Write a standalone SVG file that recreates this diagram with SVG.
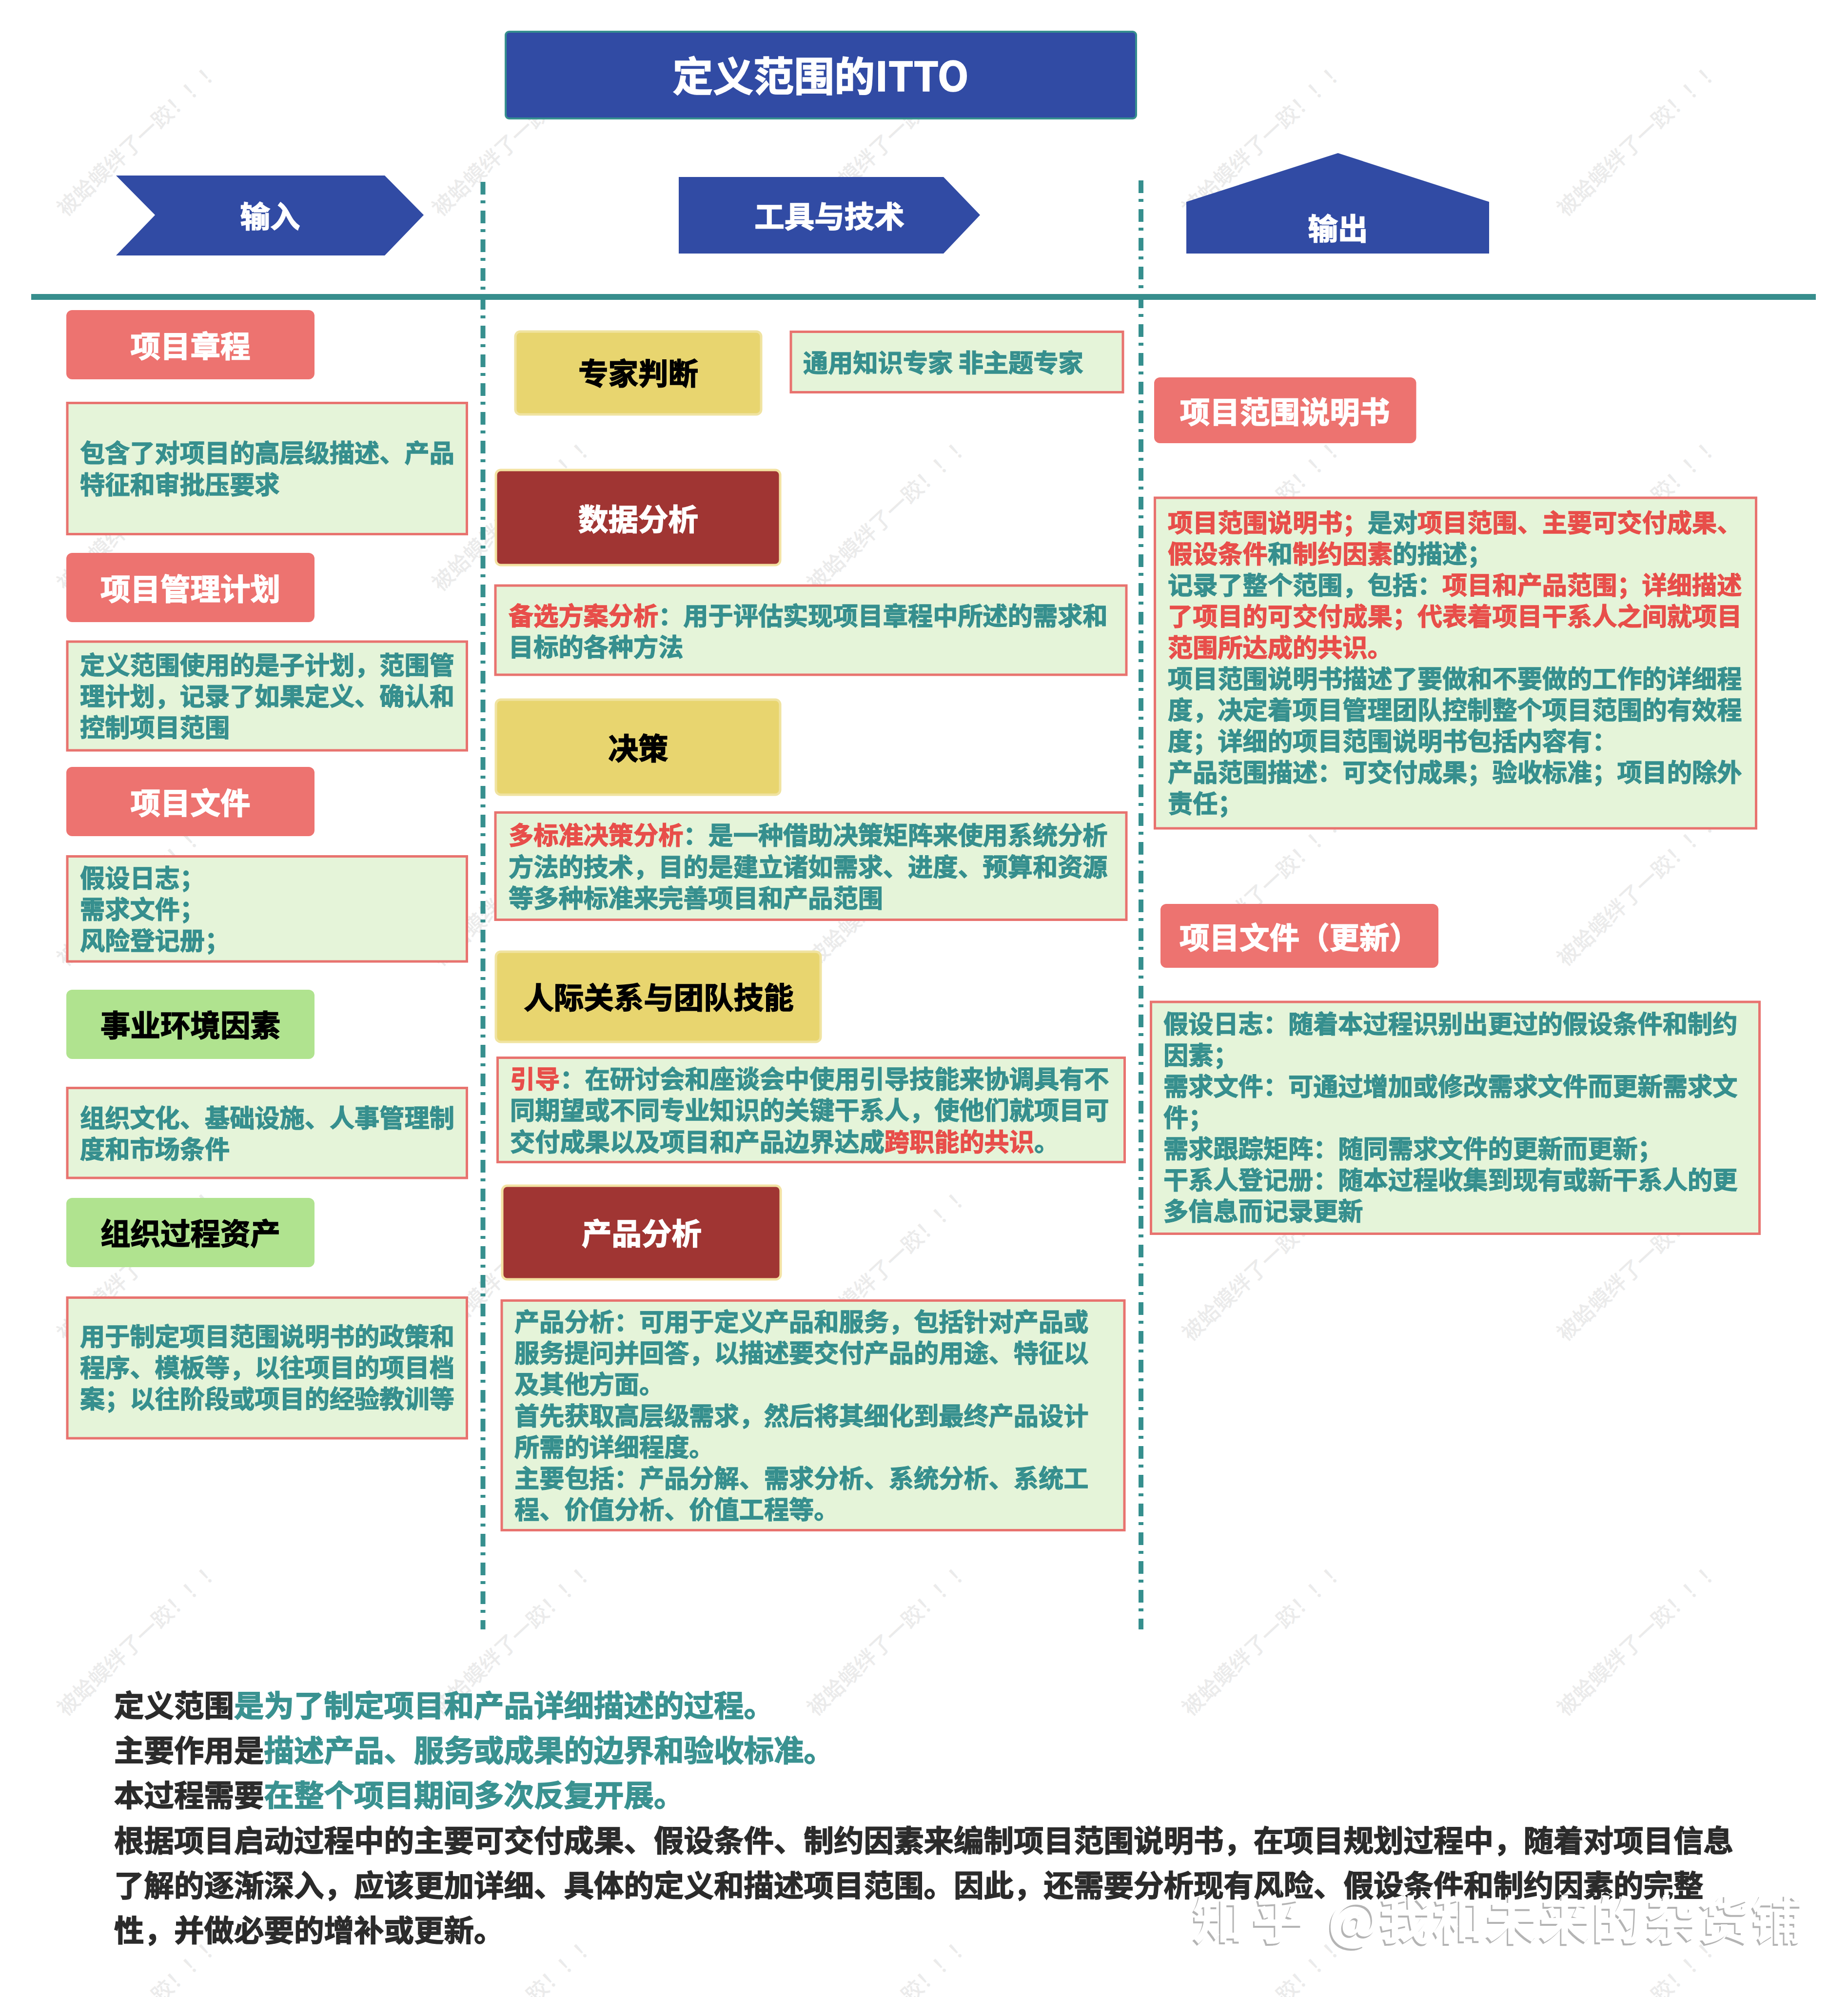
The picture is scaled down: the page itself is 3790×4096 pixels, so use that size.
<svg xmlns="http://www.w3.org/2000/svg" width="3790" height="4096" viewBox="0 0 3790 4096">
<defs>
<style>
text{font-family:"Noto Sans CJK SC","Noto Sans",sans-serif;font-weight:700}
.wm{font-size:44px;font-weight:500;fill:#ebebeb}
.lab{font-size:61.5px;text-anchor:middle}
.w{fill:#fff;stroke:#fff;stroke-width:1.6}
.k{fill:#000;stroke:#000;stroke-width:1.6}
.t{font-size:51.2px;fill:#368f8e;stroke:#368f8e;stroke-width:1.3}
.r{fill:#e84e4a;stroke:#e84e4a}
.box{fill:#e5f4d9;stroke:#e8736f;stroke-width:5}
.red{fill:#ed7370}
.grn{fill:#b0e38f}
.yel{fill:#e8d56f;stroke:#f0e3a0;stroke-width:5}
.brn{fill:#a03533;stroke:#f3e2a2;stroke-width:5}
.blue{fill:#314ba4}
.dash{stroke:#368f8e;stroke-width:10;fill:none;stroke-dasharray:26 12 6 15}
.b{font-size:61.5px;fill:#2b2b2b;stroke:#2b2b2b;stroke-width:1.6}
.g{fill:#3a9291;stroke:#3a9291}
.zh{font-size:106px}
</style>
<g id="wmk"><text class="wm" transform="rotate(-43)">被蛤蟆绊了一跤！！！</text></g>
<g id="zhk"><text class="zh" x="2443" y="3981" letter-spacing="16">知乎</text><text class="zh" x="2720" y="3981">@</text><text class="zh" x="2826" y="3981" letter-spacing="3">我和未来的杂货铺</text></g>
</defs>
<rect width="3790" height="4096" fill="#fff"/>
<g id="watermarks">
<use href="#wmk" transform="translate(135 446)"/><use href="#wmk" transform="translate(904 446)"/><use href="#wmk" transform="translate(1673 446)"/><use href="#wmk" transform="translate(2442 446)"/><use href="#wmk" transform="translate(3211 446)"/>
<use href="#wmk" transform="translate(135 1215)"/><use href="#wmk" transform="translate(904 1215)"/><use href="#wmk" transform="translate(1673 1215)"/><use href="#wmk" transform="translate(2442 1215)"/><use href="#wmk" transform="translate(3211 1215)"/>
<use href="#wmk" transform="translate(135 1984)"/><use href="#wmk" transform="translate(904 1984)"/><use href="#wmk" transform="translate(1673 1984)"/><use href="#wmk" transform="translate(2442 1984)"/><use href="#wmk" transform="translate(3211 1984)"/>
<use href="#wmk" transform="translate(135 2753)"/><use href="#wmk" transform="translate(904 2753)"/><use href="#wmk" transform="translate(1673 2753)"/><use href="#wmk" transform="translate(2442 2753)"/><use href="#wmk" transform="translate(3211 2753)"/>
<use href="#wmk" transform="translate(135 3522)"/><use href="#wmk" transform="translate(904 3522)"/><use href="#wmk" transform="translate(1673 3522)"/><use href="#wmk" transform="translate(2442 3522)"/><use href="#wmk" transform="translate(3211 3522)"/>
<use href="#wmk" transform="translate(135 4291)"/><use href="#wmk" transform="translate(904 4291)"/><use href="#wmk" transform="translate(1673 4291)"/><use href="#wmk" transform="translate(2442 4291)"/><use href="#wmk" transform="translate(3211 4291)"/>
</g>
<g id="connectors">
<line class="dash" x1="990.5" y1="373" x2="990.5" y2="3342"/>
<line class="dash" x1="2340" y1="370" x2="2340" y2="3342"/>
<rect x="64" y="603" width="3660" height="12" fill="#378e8d"/>
</g>
<g id="title"><rect x="1037" y="65" width="1293" height="178" rx="7" fill="#314ba4" stroke="#368f8e" stroke-width="4"/><text x="1683" y="187" font-size="83" class="w" text-anchor="middle">定义范围的ITTO</text></g>
<g id="head-input"><polygon class="blue" points="238,360 789,360 869,441 789,524 238,524 318,441"/><text class="lab w" x="554" y="467">输入</text></g>
<g id="head-tools"><polygon class="blue" points="1392,363 1935,363 2010,441 1935,520 1392,520"/><text class="lab w" x="1701" y="467">工具与技术</text></g>
<g id="head-output"><polygon class="blue" points="2744,314 3054,414 3054,520 2433,520 2433,414"/><text class="lab w" x="2744" y="492">输出</text></g>

<g id="in1"><rect class="red" x="136" y="636" width="509" height="142" rx="12"/><text class="lab w" x="390.5" y="733">项目章程</text></g>
<g id="in1b"><rect class="box" x="138" y="826.5" width="819.5" height="269"/><text class="t"><tspan x="164" y="948">包含了对项目的高层级描述、产品</tspan><tspan x="164" y="1013">特征和审批压要求</tspan></text></g>
<g id="in2"><rect class="red" x="136" y="1134" width="509" height="142" rx="12"/><text class="lab w" x="390.5" y="1231">项目管理计划</text></g>
<g id="in2b"><rect class="box" x="138" y="1316" width="819.5" height="223"/><text class="t"><tspan x="164" y="1383">定义范围使用的是子计划，范围管</tspan><tspan x="164" y="1447">理计划，记录了如果定义、确认和</tspan><tspan x="164" y="1511">控制项目范围</tspan></text></g>
<g id="in3"><rect class="red" x="136" y="1573" width="509" height="142" rx="12"/><text class="lab w" x="390.5" y="1670">项目文件</text></g>
<g id="in3b"><rect class="box" x="138" y="1756.5" width="819.5" height="215.5"/><text class="t"><tspan x="164" y="1820">假设日志；</tspan><tspan x="164" y="1884">需求文件；</tspan><tspan x="164" y="1948">风险登记册；</tspan></text></g>
<g id="in4"><rect class="grn" x="136" y="2030" width="509" height="142" rx="12"/><text class="lab k" x="390.5" y="2126">事业环境因素</text></g>
<g id="in4b"><rect class="box" x="138" y="2231.5" width="819.5" height="184.5"/><text class="t"><tspan x="164" y="2312">组织文化、基础设施、人事管理制</tspan><tspan x="164" y="2376">度和市场条件</tspan></text></g>
<g id="in5"><rect class="grn" x="136" y="2457" width="509" height="142" rx="12"/><text class="lab k" x="390.5" y="2553">组织过程资产</text></g>
<g id="in5b"><rect class="box" x="138" y="2661.5" width="819.5" height="288.5"/><text class="t"><tspan x="164" y="2760">用于制定项目范围说明书的政策和</tspan><tspan x="164" y="2824">程序、模板等，以往项目的项目档</tspan><tspan x="164" y="2888">案；以往阶段或项目的经验教训等</tspan></text></g>

<g id="t1"><rect class="yel" x="1057" y="680" width="504" height="170" rx="10"/><text class="lab k" x="1309" y="789">专家判断</text></g>
<g id="t1b"><rect class="box" x="1622" y="680.5" width="681" height="124"/><text class="t" x="1647" y="763">通用知识专家 非主题专家</text></g>
<g id="t2"><rect class="brn" x="1017" y="964" width="583" height="195" rx="10"/><text class="lab w" x="1309" y="1088">数据分析</text></g>
<g id="t2b"><rect class="box" x="1016" y="1201" width="1294" height="183"/><text class="t"><tspan x="1043" y="1282" class="r">备选方案分析</tspan><tspan>：用于评估实现项目章程中所述的需求和</tspan><tspan x="1043" y="1346">目标的各种方法</tspan></text></g>
<g id="t3"><rect class="yel" x="1017" y="1435" width="583" height="195" rx="10"/><text class="lab k" x="1309" y="1558">决策</text></g>
<g id="t3b"><rect class="box" x="1016" y="1666.5" width="1294" height="220"/><text class="t"><tspan x="1043" y="1732" class="r">多标准决策分析</tspan><tspan>：是一种借助决策矩阵来使用系统分析</tspan><tspan x="1043" y="1797">方法的技术，目的是建立诸如需求、进度、预算和资源</tspan><tspan x="1043" y="1861">等多种标准来完善项目和产品范围</tspan></text></g>
<g id="t4"><rect class="yel" x="1017" y="1952" width="666" height="185" rx="10"/><text class="lab k" x="1351" y="2069">人际关系与团队技能</text></g>
<g id="t4b"><rect class="box" x="1020.5" y="2169.5" width="1286" height="214"/><text class="t"><tspan x="1046" y="2232" class="r">引导</tspan><tspan>：在研讨会和座谈会中使用引导技能来协调具有不</tspan><tspan x="1046" y="2296">同期望或不同专业知识的关键干系人，使他们就项目可</tspan><tspan x="1046" y="2361">交付成果以及项目和产品边界达成</tspan><tspan class="r">跨职能的共识</tspan><tspan>。</tspan></text></g>
<g id="t5"><rect class="brn" x="1030" y="2432" width="571" height="192" rx="10"/><text class="lab w" x="1316" y="2553">产品分析</text></g>
<g id="t5b"><rect class="box" x="1029" y="2667.5" width="1277" height="471"/><text class="t"><tspan x="1055" y="2730">产品分析：可用于定义产品和服务，包括针对产品或</tspan><tspan x="1055" y="2794">服务提问并回答，以描述要交付产品的用途、特征以</tspan><tspan x="1055" y="2858">及其他方面。</tspan><tspan x="1055" y="2923">首先获取高层级需求，然后将其细化到最终产品设计</tspan><tspan x="1055" y="2987">所需的详细程度。</tspan><tspan x="1055" y="3051">主要包括：产品分解、需求分析、系统分析、系统工</tspan><tspan x="1055" y="3115">程、价值分析、价值工程等。</tspan></text></g>

<g id="o1"><rect class="red" x="2367" y="774" width="537.5" height="135" rx="12"/><text class="lab w" x="2635" y="868">项目范围说明书</text></g>
<g id="o1b"><rect class="box" x="2368.5" y="1021" width="1233" height="678"/><text class="t"><tspan x="2395" y="1091" class="r">项目范围说明书；</tspan><tspan>是对</tspan><tspan class="r">项目范围、主要可交付成果、</tspan><tspan x="2395" y="1155" class="r">假设条件</tspan><tspan>和</tspan><tspan class="r">制约因素</tspan><tspan>的描述；</tspan><tspan x="2395" y="1219">记录了整个范围，包括：</tspan><tspan class="r">项目和产品范围；详细描述</tspan><tspan x="2395" y="1283" class="r">了项目的可交付成果；代表着项目干系人之间就项目</tspan><tspan x="2395" y="1347" class="r">范围所达成的共识。</tspan><tspan x="2395" y="1411">项目范围说明书描述了要做和不要做的工作的详细程</tspan><tspan x="2395" y="1475">度，决定着项目管理团队控制整个项目范围的有效程</tspan><tspan x="2395" y="1539">度；详细的项目范围说明书包括内容有：</tspan><tspan x="2395" y="1603">产品范围描述：可交付成果；验收标准；项目的除外</tspan><tspan x="2395" y="1667">责任；</tspan></text></g>
<g id="o2"><rect class="red" x="2380" y="1854" width="570" height="131" rx="12"/><text class="lab w" style="text-anchor:start" x="2419" y="1946">项目文件（更新）</text></g>
<g id="o2b"><rect class="box" x="2360.5" y="2055" width="1248" height="475.5"/><text class="t"><tspan x="2386" y="2119">假设日志：随着本过程识别出更过的假设条件和制约</tspan><tspan x="2386" y="2183">因素；</tspan><tspan x="2386" y="2247">需求文件：可通过增加或修改需求文件而更新需求文</tspan><tspan x="2386" y="2311">件；</tspan><tspan x="2386" y="2375">需求跟踪矩阵：随同需求文件的更新而更新；</tspan><tspan x="2386" y="2439">干系人登记册：随本过程收集到现有或新干系人的更</tspan><tspan x="2386" y="2503">多信息而记录更新</tspan></text></g>

<g id="summary"><text class="b"><tspan x="234" y="3521">定义范围</tspan><tspan class="g">是为了制定项目和产品详细描述的过程。</tspan><tspan x="234" y="3613">主要作用是</tspan><tspan class="g">描述产品、服务或成果的边界和验收标准。</tspan><tspan x="234" y="3705">本过程需要</tspan><tspan class="g">在整个项目期间多次反复开展。</tspan><tspan x="234" y="3798">根据项目启动过程中的主要可交付成果、假设条件、制约因素来编制项目范围说明书，在项目规划过程中，随着对项目信息</tspan><tspan x="234" y="3890">了解的逐渐深入，应该更加详细、具体的定义和描述项目范围。因此，还需要分析现有风险、假设条件和制约因素的完整</tspan><tspan x="234" y="3982">性，并做必要的增补或更新。</tspan></text></g>
<g id="zhihu"><use href="#zhk" fill="#b4b4b4"/><use href="#zhk" fill="#ffffff" transform="translate(3 -4)"/></g>
</svg>
